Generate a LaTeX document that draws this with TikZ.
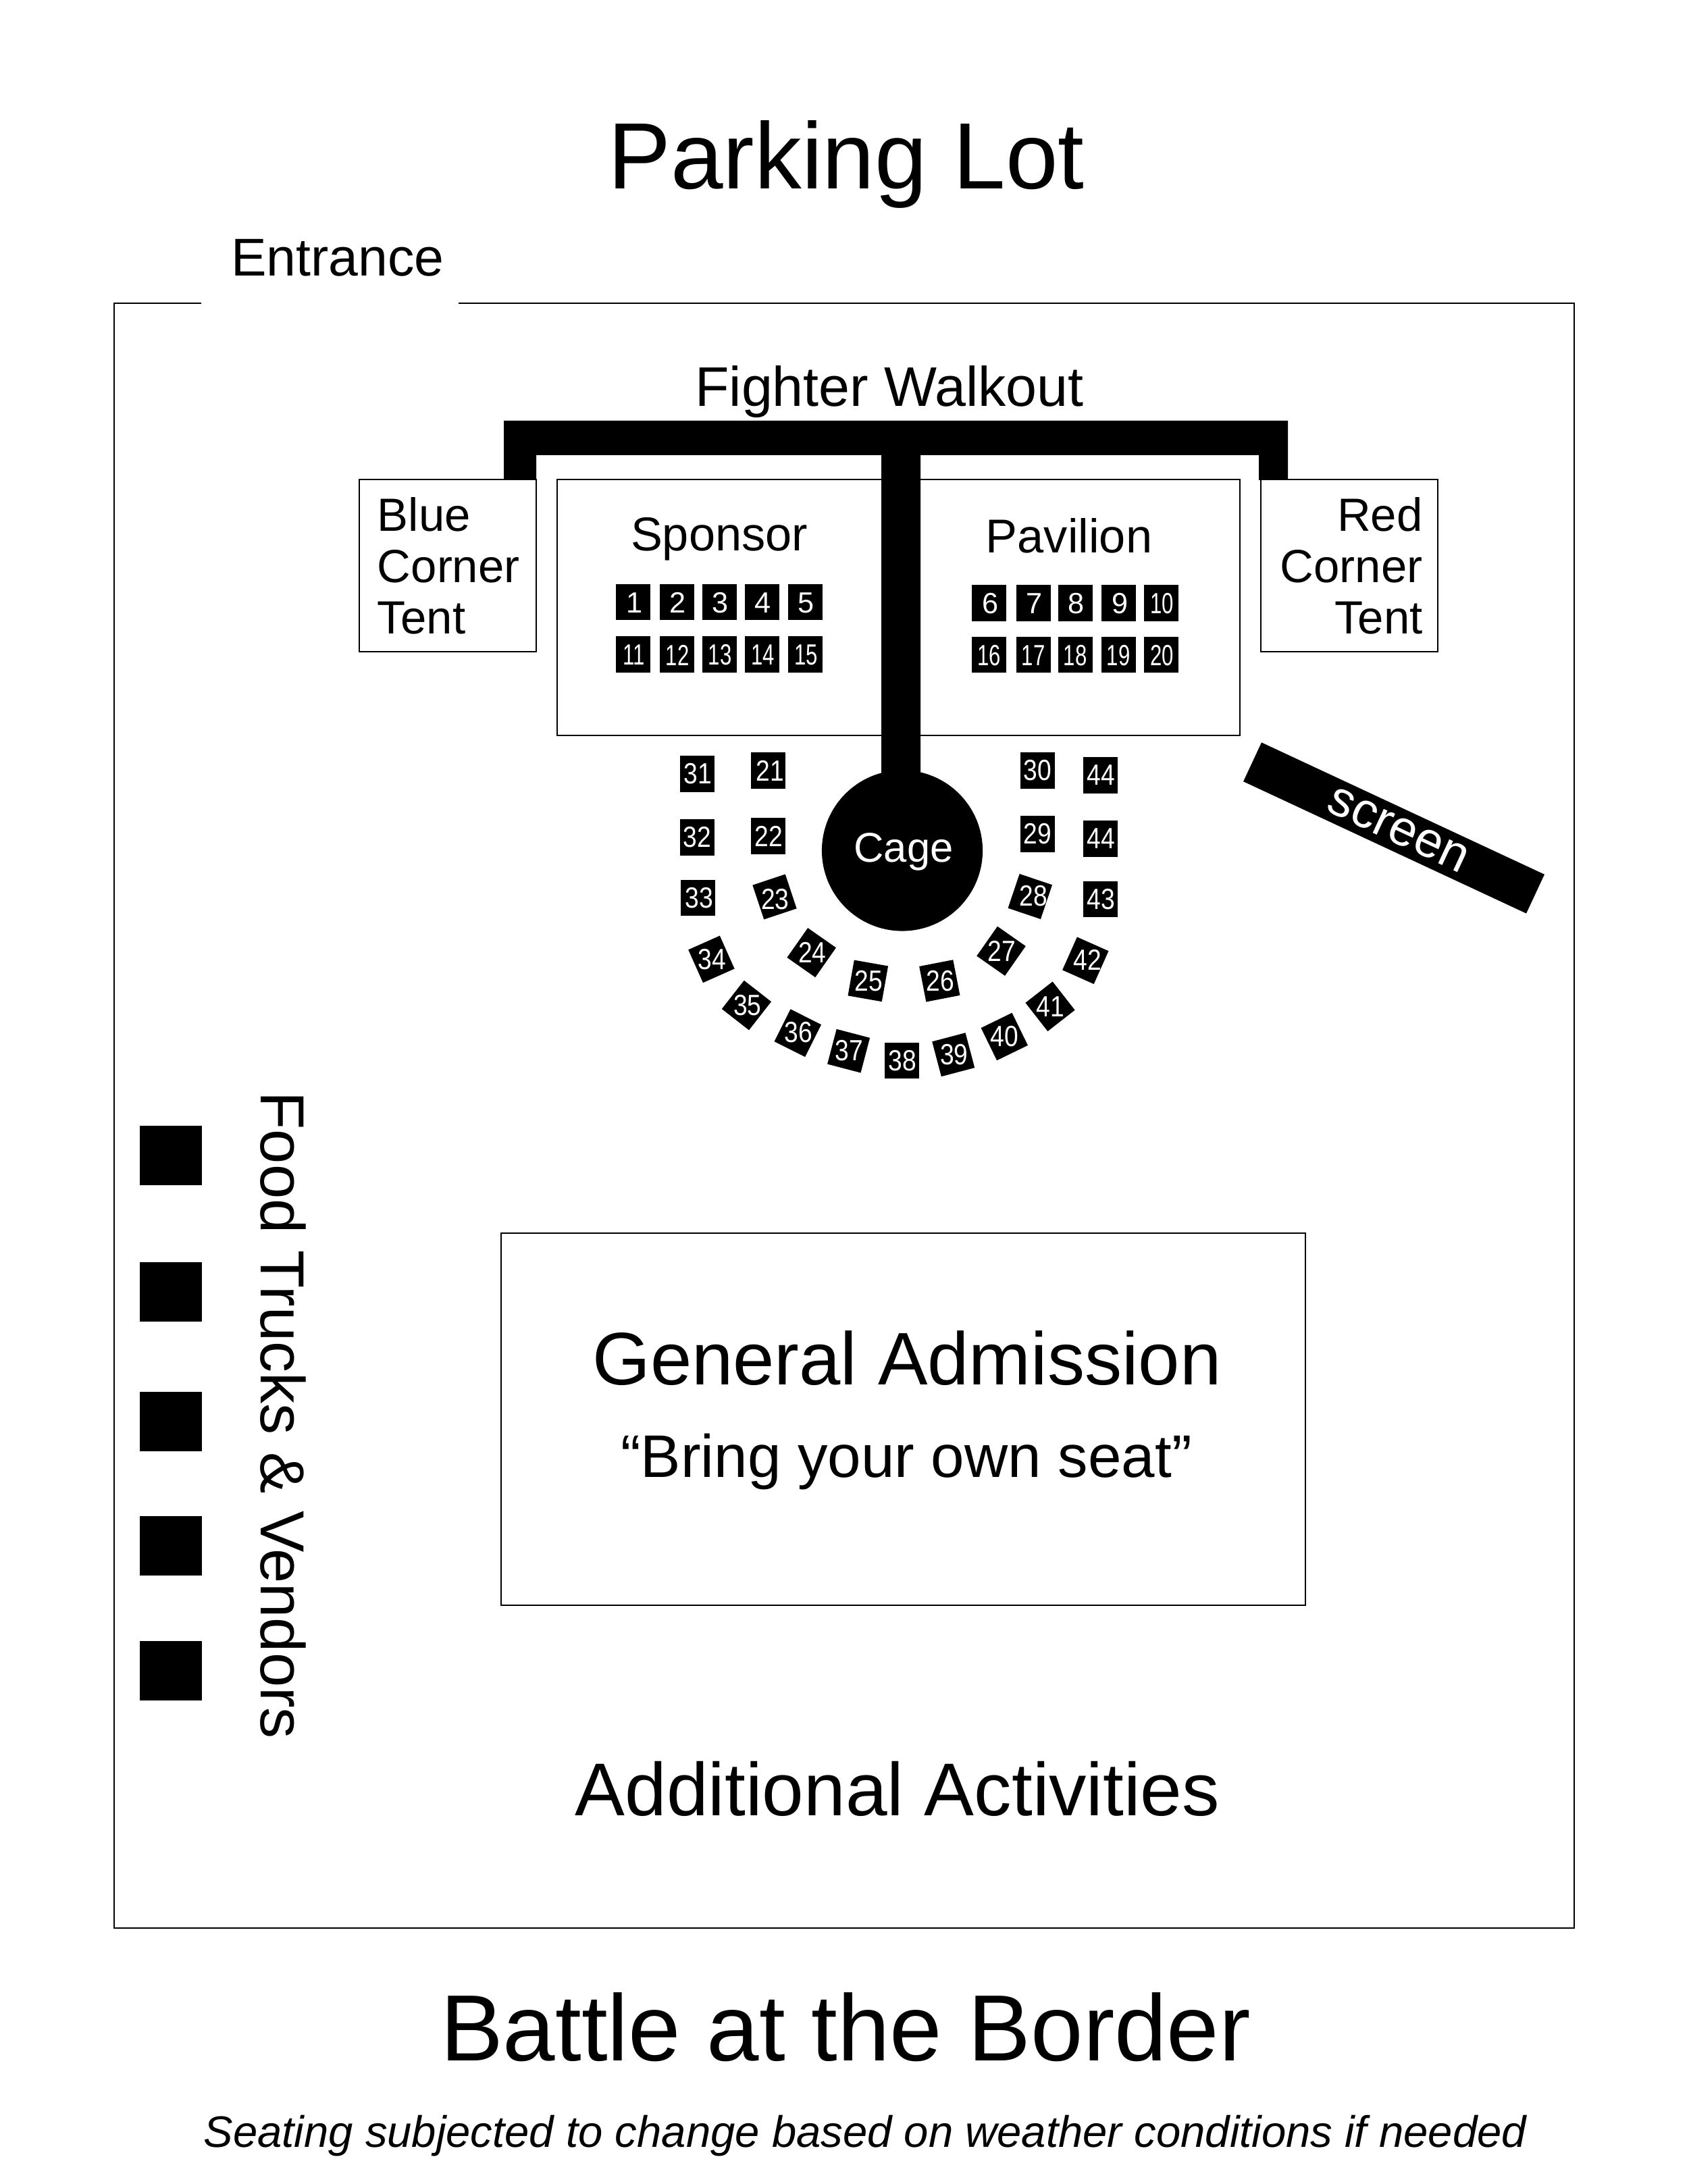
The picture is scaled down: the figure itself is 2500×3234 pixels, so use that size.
\documentclass[tikz,border=0pt]{standalone}
\usepackage{fontspec}
\setmainfont{Liberation Sans}
\newcommand\narrownum[1]{\scalebox{0.72}[1]{#1}}
\newcommand\tightnum[1]{\scalebox{0.86}[1]{#1}}
\tikzset{
  frameline/.style={draw=black,line width=0.6pt},
  roombox/.style={frameline,fill=white,inner sep=0pt},
  seatbox/.style={fill=black,inner sep=0pt,minimum width=0.51cm,minimum height=0.535cm,outer sep=0pt},
  seatnum/.style={text=white,inner sep=0pt,font=\fontsize{12.3}{13}\selectfont},
  truck/.style={fill=black,inner sep=0pt,minimum width=0.92cm,minimum height=0.88cm,outer sep=0pt},
  label/.style={inner sep=0pt,text=black},
}
% id, x, y, rotation, text dx, text dy, text
\newcommand\seat[7]{%
  \node[seatbox,rotate=#4] (#1) at (#2,#3) {};
  \node[seatnum] (#1t) at ([shift={(#5,#6)}]#1.center) {#7};
}
\begin{document}
\begin{tikzpicture}[x=0.01cm,y=-0.01cm]
\useasboundingbox (0,0) rectangle (2500,3234);
\fill[white] (0,0) rectangle (2500,3234);

% outer fence with entrance gap
\coordinate (gapL) at (298,449);
\coordinate (gapR) at (679,449);
\coordinate (fenceTL) at (169,449);
\coordinate (fenceBL) at (169,2855);
\coordinate (fenceBR) at (2331,2855);
\coordinate (fenceTR) at (2331,449);
\draw[frameline] (gapL) -- (fenceTL) -- (fenceBL) -- (fenceBR) -- (fenceTR) -- (gapR);

% titles
\node[label,anchor=base,font=\fontsize{39.65}{44}\selectfont] (parking) at (1253,280) {Parking Lot};
\node[label,anchor=base,font=\fontsize{22.4}{24}\selectfont] (entrance) at (500,409) {Entrance};
\node[label,anchor=base,font=\fontsize{23.5}{26}\selectfont] (walkout) at (1317,602) {Fighter Walkout};

% rooms
\node[roombox,minimum width=2.615cm,minimum height=2.55cm,text width=2.08cm,align=left,
      font=\fontsize{19.6}{21.6}\selectfont] (blue) at (663,837.5) {Blue\\Corner\\Tent};
\node[roombox,minimum width=2.62cm,minimum height=2.55cm,text width=2.17cm,align=right,
      font=\fontsize{19.6}{21.6}\selectfont] (red) at (1998,837.5) {Red\\Corner\\Tent};
\node[roombox,minimum width=10.11cm,minimum height=3.79cm] (pavilion) at (1330.5,899.5) {};

% fighter walkout bar
\fill[black] (746,623) -- (1907,623) -- (1907,711) -- (1864,711) -- (1864,674) -- (1363,674)
  -- (1363,1200) -- (1305,1200) -- (1305,674) -- (794,674) -- (794,711) -- (746,711) -- cycle;

\node[label,anchor=base,font=\fontsize{20}{22}\selectfont] (sponsorT) at (1065,816) {Sponsor};
\node[label,anchor=base,font=\fontsize{20}{22}\selectfont] (pavilionT) at (1583,819) {Pavilion};

% cage
\node[circle,fill=black,inner sep=0pt,minimum size=2.38cm] (cage) at (1336,1259.5) {};
\node[anchor=base,inner sep=0pt,text=white,font=\fontsize{17.5}{19}\selectfont] (cageT) at (1338,1276) {Cage};

% sponsor seats
\seat{s1}{937.5}{891.5}{0}{2}{1}{1}
\seat{s2}{1002}{891.5}{0}{2}{1}{2}
\seat{s3}{1065}{891.5}{0}{2}{1}{3}
\seat{s4}{1128.5}{891.5}{0}{1}{1}{4}
\seat{s5}{1192.5}{891.5}{0}{1}{1}{5}
\seat{s11}{937.5}{969}{0}{1}{1}{\narrownum{11}}
\seat{s12}{1002}{969}{0}{1}{1}{\narrownum{12}}
\seat{s13}{1065}{969}{0}{1}{1}{\narrownum{13}}
\seat{s14}{1128.5}{969}{0}{1}{1}{\narrownum{14}}
\seat{s15}{1192.5}{969}{0}{1}{1}{\narrownum{15}}
\seat{s6}{1464.5}{893}{0}{2}{1}{6}
\seat{s7}{1530}{893}{0}{2}{1}{7}
\seat{s8}{1592}{893}{0}{2}{1}{8}
\seat{s9}{1656}{893}{0}{2}{1}{9}
\seat{s10}{1719.5}{893}{0}{1}{1}{\narrownum{10}}
\seat{s16}{1464.5}{969.5}{0}{0}{1}{\narrownum{16}}
\seat{s17}{1530}{969.5}{0}{0}{1}{\narrownum{17}}
\seat{s18}{1592}{969.5}{0}{0}{1}{\narrownum{18}}
\seat{s19}{1656}{969.5}{0}{0}{1}{\narrownum{19}}
\seat{s20}{1719.5}{969.5}{0}{1}{1}{\narrownum{20}}

% ringside seats
\seat{s31}{1032}{1146}{0}{1}{0}{\tightnum{31}}
\seat{s21}{1137}{1141}{0}{3}{0}{\tightnum{21}}
\seat{s30}{1536}{1141}{0}{0}{0}{\tightnum{30}}
\seat{s44a}{1629}{1148}{0}{1}{0}{\tightnum{44}}
\seat{s32}{1032}{1240}{0}{0}{0}{\tightnum{32}}
\seat{s22}{1137}{1238}{0}{1}{0}{\tightnum{22}}
\seat{s29}{1536}{1235}{0}{0}{0}{\tightnum{29}}
\seat{s44b}{1629}{1242}{0}{1}{0}{\tightnum{44}}
\seat{s33}{1033.3}{1329.4}{0}{1.7}{0}{\tightnum{33}}
\seat{s23}{1147}{1328}{18.4}{0.7}{3.7}{\tightnum{23}}
\seat{s28}{1525.3}{1327.5}{-18.6}{4.7}{-0.7}{\tightnum{28}}
\seat{s43}{1629}{1331.3}{0}{1}{0}{\tightnum{43}}
\seat{s34}{1053.4}{1420.4}{24}{1}{0}{\tightnum{34}}
\seat{s24}{1201.7}{1410.6}{-35}{1}{-0.7}{\tightnum{24}}
\seat{s25}{1285.3}{1452.4}{-10}{1}{0}{\tightnum{25}}
\seat{s26}{1391.3}{1452.4}{11}{1}{0}{\tightnum{26}}
\seat{s27}{1482.5}{1408.3}{-35}{1}{0}{\tightnum{27}}
\seat{s42}{1607.3}{1422.3}{-24}{2.7}{-0.7}{\tightnum{42}}
\seat{s35}{1105.4}{1488.6}{-38}{1.3}{0}{\tightnum{35}}
\seat{s41}{1555}{1490.3}{38}{0}{0}{\tightnum{41}}
\seat{s36}{1181.3}{1529.7}{-26.6}{1}{-0.7}{\tightnum{36}}
\seat{s40}{1487.3}{1535}{26}{0}{-0.7}{\tightnum{40}}
\seat{s37}{1256.6}{1556.2}{-14.7}{1}{-0.7}{\tightnum{37}}
\seat{s39}{1411.7}{1561.7}{14.8}{1}{0}{\tightnum{39}}
\seat{s38}{1335.5}{1570.7}{0}{1}{0}{\tightnum{38}}

% screen
\node[fill=black,text=white,rotate=-25,inner sep=0pt,minimum width=4.62cm,minimum height=0.637cm,
      font=\fontsize{21}{22}\selectfont] (screen) at (2064,1226) {\hspace*{0.14cm}screen};

% food trucks
\node[truck] (t1) at (253,1711) {};
\node[truck] (t2) at (253,1913) {};
\node[truck] (t3) at (253,2105) {};
\node[truck] (t4) at (253,2289) {};
\node[truck] (t5) at (253,2474) {};
\node[label,rotate=-90,anchor=base west,font=\fontsize{26.17}{28}\selectfont] (foodT) at (386,1616) {Food Trucks \& Vendors};

% general admission
\node[roombox,minimum width=11.9cm,minimum height=5.51cm] (ga) at (1337.5,2101.5) {};
\node[label,anchor=base,font=\fontsize{31.35}{34}\selectfont] (gaT) at (1343,2050) {General Admission};
\node[label,anchor=base,font=\fontsize{25.3}{28}\selectfont] (gaS) at (1342,2187) {“Bring your own seat”};

\node[label,anchor=base,font=\fontsize{31.5}{34}\selectfont] (activities) at (1329,2688.5) {Additional Activities};
\node[label,anchor=base,font=\fontsize{39.6}{44}\selectfont] (battle) at (1252,3051) {Battle at the Border};
\node[label,anchor=base,font=\itshape\fontsize{18.55}{20}\selectfont] (note) at (1281,3179) {Seating subjected to change based on weather conditions if needed};
\end{tikzpicture}
\end{document}
